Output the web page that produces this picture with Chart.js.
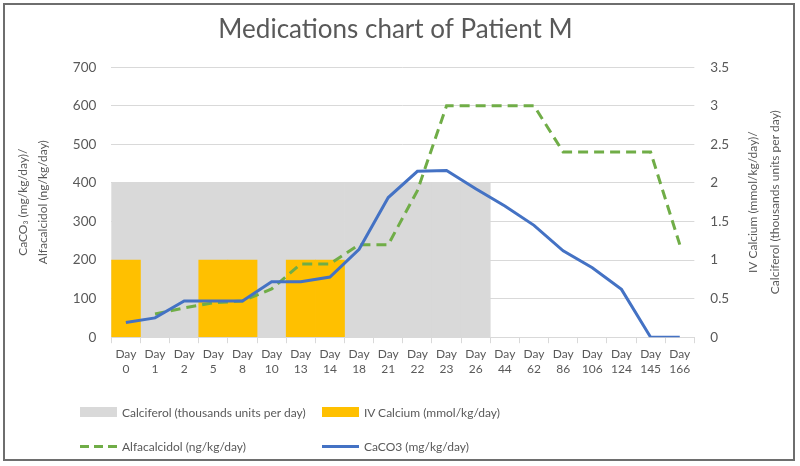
<!DOCTYPE html>
<html>
<head>
<meta charset="utf-8">
<script src="https://cdn.jsdelivr.net/npm/chart.js@4"></script>
<style>
  html, body { margin: 0; padding: 0; background: #fff; }
  #wrap { position: relative; width: 800px; height: 466px; }
  #frame { position: absolute; left: 3px; top: 3px; width: 792px; height: 458px;
           border: 2px solid #6e6e6e; box-sizing: border-box; pointer-events: none; }
  #legend { position: absolute; left: 80px; top: 403px; display: grid;
            grid-template-columns: 242px 240px; row-gap: 16px;
            font-family: Lato, sans-serif; font-size: 12px; color: #595959; }
  .item { display: flex; align-items: center; height: 18px; }
  .sw { width: 37px; margin-right: 5px; flex: none; }
</style>
</head>
<body>
<div id="wrap">
  <canvas id="chart" width="800" height="466"></canvas>
  <div id="legend"></div>
  <div id="frame"></div>
</div>
<script>
var days = ['0','1','2','5','8','10','13','14','18','21','22','23','26','44','62','86','106','124','145','166'];
var calciferol = [2,2,2,2,2,2,2,2,2,2,2,2,2,null,null,null,null,null,null,null];
var ivCalcium = [1,null,null,1,1,null,1,1,null,null,null,null,null,null,null,null,null,null,null,null];
var alfacalcidol = [null,60,76,89,94,125,190,190,240,240,380,600,600,600,600,480,480,480,480,240];
var caco3 = [38,50,94,94,94,144,144,156,228,362,430,432,385,340,290,224,180,124,0,0];
var leftTicks = [0,100,200,300,400,500,600,700];
var rightTicks = [0,0.5,1,1.5,2,2.5,3,3.5];

var grey = '#595959';
var font = 'Lato';

var labels = days.map(function (d) { return ['Day', d]; });

// right axis title reads bottom-to-top in the original, so draw it by hand
var rightTitle = {
    id: 'rightTitle',
    afterDraw: function (chart) {
        var ctx = chart.ctx;
        var area = chart.chartArea;
        var cy = (area.top + area.bottom) / 2;
        var lines = ['IV Calcium (mmol/kg/day)/', 'Calciferol (thousands units per day)'];
        ctx.save();
        ctx.fillStyle = grey;
        ctx.font = '12px ' + font;
        ctx.textAlign = 'center';
        ctx.textBaseline = 'middle';
        lines.forEach(function (t, i) {
            ctx.save();
            ctx.translate(area.right + 59 + i * 22, cy);
            ctx.rotate(-Math.PI / 2);
            ctx.fillText(t, 0, 0);
            ctx.restore();
        });
        ctx.restore();
    }
};

var chart = new Chart(document.getElementById('chart').getContext('2d'), {
    data: {
        labels: labels,
        datasets: [
            { type: 'bar', label: 'Calciferol (thousands units per day)', data: calciferol,
              yAxisID: 'y1', backgroundColor: '#D9D9D9', order: 3,
              barPercentage: 1, categoryPercentage: 1, grouped: false },
            { type: 'bar', label: 'IV Calcium (mmol/kg/day)', data: ivCalcium,
              yAxisID: 'y1', backgroundColor: '#FFC000', order: 2,
              barPercentage: 1, categoryPercentage: 1, grouped: false },
            { type: 'line', label: 'Alfacalcidol (ng/kg/day)', data: alfacalcidol,
              yAxisID: 'y', borderColor: '#70AD47', borderWidth: 3, borderDash: [10, 6],
              pointRadius: 0, tension: 0, order: 1, spanGaps: false },
            { type: 'line', label: 'CaCO3 (mg/kg/day)', data: caco3,
              yAxisID: 'y', borderColor: '#4472C4', borderWidth: 3,
              pointRadius: 0, tension: 0, order: 0 }
        ]
    },
    options: {
        responsive: false,
        animation: false,
        layout: { padding: { left: 13, right: 22, top: 6, bottom: 86 } },
        plugins: {
            legend: { display: false },
            tooltip: { enabled: false },
            title: { display: true, text: 'Medications chart of Patient M', color: grey,
                     font: { family: font, size: 26, weight: 'normal' },
                     padding: { top: 8, bottom: 22 } }
        },
        scales: {
            x: {
                offset: true,
                grid: { drawOnChartArea: false, drawTicks: true, tickLength: 6, color: '#D9D9D9', offset: true },
                border: { display: true, color: '#D9D9D9' },
                ticks: { color: grey, font: { family: font, size: 12 }, maxRotation: 0, autoSkip: false, padding: 4 }
            },
            y: {
                position: 'left', min: 0, max: 700,
                afterBuildTicks: function (s) { s.ticks = leftTicks.map(function (v) { return { value: v }; }); },
                grid: { color: '#D9D9D9', drawTicks: false },
                border: { display: false },
                ticks: { color: grey, font: { family: font, size: 13.5 }, padding: 15 },
                title: { display: true, text: ['CaCO\u2083 (mg/kg/day)/', 'Alfacalcidol (ng/kg/day)'],
                         color: grey, font: { family: font, size: 12, lineHeight: 1.7 }, padding: { top: 0, bottom: 4 } }
            },
            y1: {
                position: 'right', min: 0, max: 3.5,
                afterBuildTicks: function (s) { s.ticks = rightTicks.map(function (v) { return { value: v }; }); },
                grid: { drawOnChartArea: false, drawTicks: false },
                border: { display: false },
                ticks: { color: grey, font: { family: font, size: 13.5 }, padding: 16,
                         callback: function (v) { return String(v); } },
                title: { display: true, text: ['IV Calcium (mmol/kg/day)/', 'Calciferol (thousands units per day)'],
                         color: 'rgba(0,0,0,0)', font: { family: font, size: 12 }, padding: { top: 4, bottom: 0 } }
            }
        }
    },
    plugins: [rightTitle]
});

// legend in two columns like the original
var legend = document.getElementById('legend');
chart.data.datasets.forEach(function (ds) {
    var item = document.createElement('div');
    item.className = 'item';
    var sw = document.createElement('canvas');
    sw.className = 'sw';
    sw.width = 37; sw.height = 18;
    var c = sw.getContext('2d');
    if (ds.type === 'bar') {
        c.fillStyle = ds.backgroundColor;
        c.fillRect(0, 4, 37, 10);
    } else {
        c.strokeStyle = ds.borderColor;
        c.lineWidth = 3;
        if (ds.borderDash) c.setLineDash([9, 5]);
        c.beginPath(); c.moveTo(0, 9.5); c.lineTo(37, 9.5); c.stroke();
    }
    var span = document.createElement('span');
    span.textContent = ds.label;
    item.appendChild(sw);
    item.appendChild(span);
    legend.appendChild(item);
});
</script>
</body>
</html>
